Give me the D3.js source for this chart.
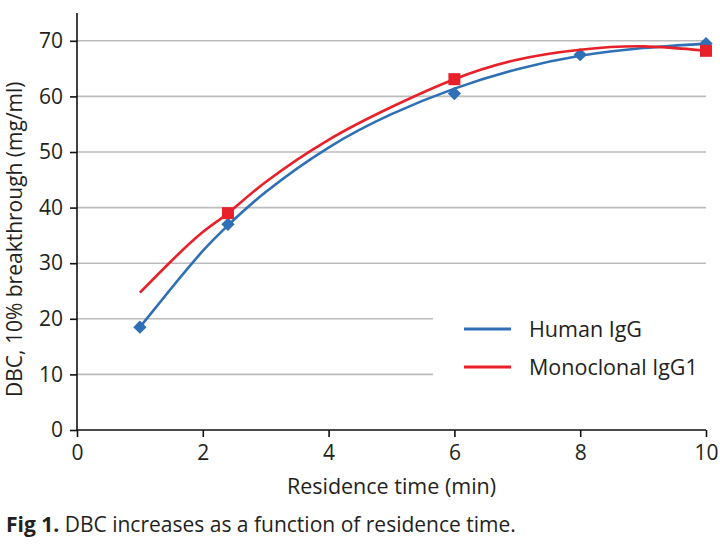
<!DOCTYPE html>
<html>
<head>
<meta charset="utf-8">
<script src="https://cdn.jsdelivr.net/npm/d3@7"></script>
<style>
  body { margin: 0; background: #fff; }
  text { font-family: "Open Sans", "Noto Sans", sans-serif; fill: #231f20; }
</style>
</head>
<body>
<div id="chart"></div>
<script>
// tick values
var xTicks = [0, 2, 4, 6, 8, 10];
var yTicks = [0, 10, 20, 30, 40, 50, 60, 70];

// measured points
var humanX = [1, 2.4, 6, 8, 10];
var humanY = [18.5, 37, 60.5, 67.5, 69.5];
var monoX = [2.4, 6, 10];
var monoY = [39, 63.1, 68.2];

// trend lines
var trendX = [1, 1.5, 2, 2.4, 3, 4, 5, 6, 7, 8, 9, 10];
var humanTrend = [18.5, 25.5, 32.2, 36.8, 42.8, 50.8, 56.8, 61.4, 64.9, 67.3, 68.7, 69.5];
var monoTrend = [24.7, 30.4, 35.6, 39.0, 44.6, 52.2, 58.1, 63.1, 66.6, 68.4, 69.0, 68.2];

var seriesNames = ["Human IgG", "Monoclonal IgG1"];
var blue = "#2f6fb5";
var red = "#e8202a";

var svgWidth = 720;
var svgHeight = 547;
var margin = { top: 13, left: 77, right: 14, bottom: 117 };
var chartWidth = svgWidth - margin.left - margin.right;
var chartHeight = svgHeight - margin.top - margin.bottom;

var svg = d3.select("#chart")
    .append("svg")
    .attr("width", svgWidth)
    .attr("height", svgHeight);

var chartGroup = svg.append("g")
    .attr("transform", `translate(${margin.left}, ${margin.top})`);

var xLinearScale = d3.scaleLinear().domain([0, 10]).range([0, chartWidth]);
var yLinearScale = d3.scaleLinear().domain([0, 75]).range([chartHeight, 0]);

// gridlines
chartGroup.append("g")
    .selectAll("line")
    .data(yTicks.filter(d => d > 0))
    .enter()
    .append("line")
    .attr("x1", 0)
    .attr("x2", chartWidth)
    .attr("y1", d => yLinearScale(d))
    .attr("y2", d => yLinearScale(d))
    .attr("stroke", "#bcbcbc")
    .attr("stroke-width", 1.6);

// legend background hides part of the grid
chartGroup.append("rect")
    .attr("x", 356)
    .attr("y", 272)
    .attr("width", 276)
    .attr("height", 125)
    .attr("fill", "#fff");

var bottomAxis = d3.axisBottom(xLinearScale).tickValues(xTicks).tickSize(7).tickPadding(8);
var leftAxis = d3.axisLeft(yLinearScale).tickValues(yTicks).tickSize(7).tickPadding(7);

var xAxis = chartGroup.append("g")
    .attr("transform", `translate(0, ${chartHeight})`)
    .call(bottomAxis);
var yAxis = chartGroup.append("g")
    .call(leftAxis);

[xAxis, yAxis].forEach(ax => {
    ax.select(".domain").attr("stroke", "#111").attr("stroke-width", 1.6);
    ax.selectAll(".tick line").attr("stroke", "#111").attr("stroke-width", 1.6);
    ax.selectAll(".tick text").style("font-size", "21px").attr("fill", "#231f20");
});
// no outer ticks at the ends
yAxis.select(".domain").attr("d", `M0,${chartHeight}V0`);
xAxis.select(".domain").attr("d", `M0,0H${chartWidth}`);

// trend lines
var line = d3.line()
    .x(d => xLinearScale(d[0]))
    .y(d => yLinearScale(d[1]))
    .curve(d3.curveNatural);

chartGroup.append("path")
    .datum(trendX.map((x, i) => [x, humanTrend[i]]))
    .attr("d", line)
    .attr("fill", "none")
    .attr("stroke", blue)
    .attr("stroke-width", 2.6);

chartGroup.selectAll(".humanPt")
    .data(humanX.map((x, i) => [x, humanY[i]]))
    .enter()
    .append("path")
    .classed("humanPt", true)
    .attr("d", d3.symbol().type(d3.symbolSquare).size(88))
    .attr("transform", d => `translate(${xLinearScale(d[0])}, ${yLinearScale(d[1])}) rotate(45)`)
    .attr("fill", blue);

chartGroup.append("path")
    .datum(trendX.map((x, i) => [x, monoTrend[i]]))
    .attr("d", line)
    .attr("fill", "none")
    .attr("stroke", red)
    .attr("stroke-width", 2.6);

chartGroup.selectAll(".monoPt")
    .data(monoX.map((x, i) => [x, monoY[i]]))
    .enter()
    .append("rect")
    .classed("monoPt", true)
    .attr("x", d => xLinearScale(d[0]) - 6)
    .attr("y", d => yLinearScale(d[1]) - 6)
    .attr("width", 12)
    .attr("height", 12)
    .attr("fill", red);

// legend
var legend = chartGroup.append("g")
    .attr("transform", "translate(387, 316)");
seriesNames.forEach((name, i) => {
    var g = legend.append("g").attr("transform", `translate(0, ${i * 38})`);
    g.append("line")
        .attr("x1", 0).attr("x2", 47)
        .attr("stroke", i === 0 ? blue : red)
        .attr("stroke-width", 3);
    g.append("text")
        .attr("x", 65)
        .attr("y", 7.5)
        .style("font-size", "21.5px")
        .text(name);
});

// axis titles
chartGroup.append("text")
    .attr("x", chartWidth / 2)
    .attr("y", chartHeight + 64)
    .attr("text-anchor", "middle")
    .style("font-size", "21.5px")
    .text("Residence time (min)");

svg.append("text")
    .attr("transform", "rotate(-90)")
    .attr("x", -397)
    .attr("y", 22)
    .attr("text-anchor", "start")
    .style("font-size", "21px")
    .text("DBC, 10% breakthrough (mg/ml)");

// caption
var caption = svg.append("text")
    .attr("x", 6)
    .attr("y", 532)
    .style("font-size", "21px");
caption.append("tspan").style("font-weight", "bold").text("Fig 1.");
caption.append("tspan").text(" DBC increases as a function of residence time.");
</script>
</body>
</html>
